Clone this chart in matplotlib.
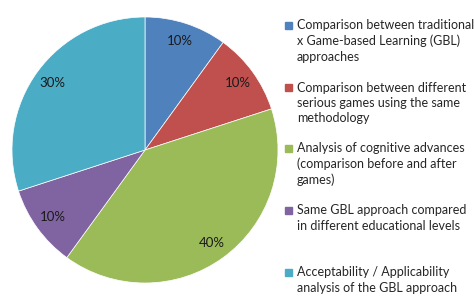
import matplotlib
matplotlib.use("Agg")
import matplotlib.pyplot as plt

labels = ["Comparison between traditional\nx Game-based Learning (GBL)\napproaches",
          "Comparison between different\nserious games using the same\nmethodology",
          "Analysis of cognitive advances\n(comparison before and after\ngames)",
          "Same GBL approach compared\nin different educational levels",
          "Acceptability / Applicability\nanalysis of the GBL approach"]
shares = [10, 10, 40, 10, 30]
colors = ["#4F81BD", "#C0504D", "#9BBB59", "#8064A2", "#4BACC6"]
# legend entry centres (pixels from top)
legend_y = [41, 103, 164, 218, 280]

plt.rcParams['font.family'] = ['Lato', 'DejaVu Sans']

W, H = 474, 305
fig = plt.figure(figsize=(W / 100, H / 100), dpi=100)
ax = fig.add_axes([12 / W, 22 / H, 266 / W, 266 / H])
wedges, texts, autotexts = ax.pie(shares, colors=colors, startangle=90, counterclock=False,
                                  autopct='%d%%', pctdistance=0.86,
                                  wedgeprops=dict(edgecolor='white', linewidth=0.5),
                                  textprops=dict(fontsize=9.5, color='#1a1a1a'))
ax.set_aspect('equal')
ax.set_xlim(-1, 1)
ax.set_ylim(-1, 1)
ax.axis('off')

for lab, c, y in zip(labels, colors, legend_y):
    nl = lab.count("\n") + 1
    top = y - nl * 16 / 2
    fig.patches.append(plt.Rectangle((285 / W, 1 - (top + 5 + 7) / H), 7 / W, 7 / H,
                                     transform=fig.transFigure, color=c))
    fig.text(297 / W, 1 - y / H, lab, fontsize=9.0, va='center', ha='left',
             color='#262626', linespacing=1.35)

fig.savefig("out.png", dpi=100)
